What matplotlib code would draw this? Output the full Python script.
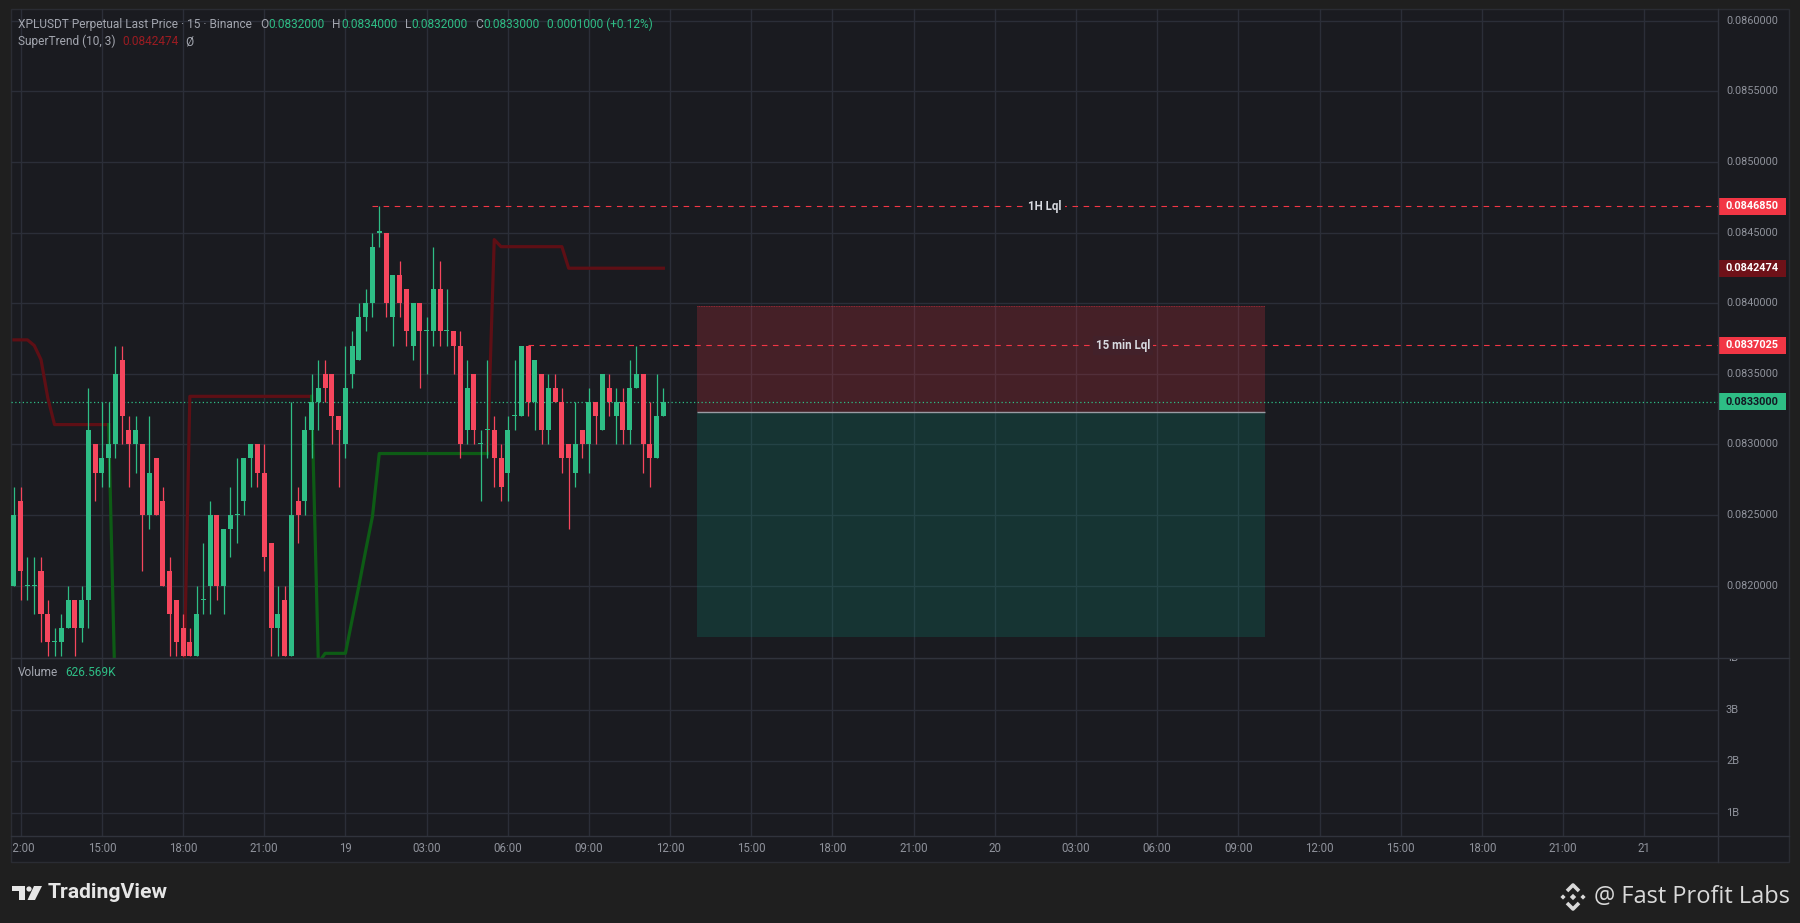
import numpy as np
import matplotlib.pyplot as plt
from matplotlib.patches import Rectangle, Polygon, Circle
from matplotlib.transforms import blended_transform_factory, Bbox, TransformedBbox

plt.rcParams['font.family'] = ['Roboto', 'DejaVu Sans']

W, H = 1800, 923
OUTER = '#1f1f1f'
BG = '#1a1b20'
GRID = '#2b2e38'
SEP = '#30333c'
TXT = '#8f929b'
LEG = '#a3a6af'
UP = '#2ebd85'
DOWN = '#f6465d'
LQL = '#f23645'
ST_RED = '#5e0f15'
ST_GREEN = '#0d5c15'

# XPLUSDT 15m candles, first candle = 18 Sep 11:45, prices in units of 0.0001
opens = [820, 826, 820, 820, 821, 818, 816, 816, 817, 819, 817, 819, 830, 828, 829, 830,
         836, 831, 830, 830, 825, 829, 826, 821, 819, 817, 816, 815, 819, 820, 825, 820,
         824, 825, 826, 829, 830, 828, 823, 817, 819, 815, 826, 826, 831, 833, 835, 835,
         832, 830, 835, 836, 839, 840, 845, 845, 839, 842, 841, 837, 840, 838, 838, 841,
         838, 838, 837, 831, 835, 830, 831, 831, 829, 828, 832, 832, 837, 833, 835, 831,
         834, 833, 830, 828, 831, 830, 833, 831, 834, 832, 833, 831, 834, 835, 830, 829, 832]
highs = [827, 827, 822, 822, 822, 819, 817, 818, 820, 819, 820, 834, 830, 833, 833, 837,
         837, 832, 832, 830, 832, 829, 827, 822, 819, 818, 817, 820, 823, 826, 825, 824,
         827, 829, 829, 830, 830, 830, 823, 820, 820, 833, 827, 832, 835, 836, 836, 835,
         832, 837, 838, 840, 841, 845, 846.85, 845, 842, 843, 841, 840, 840, 839, 844, 843,
         841, 838, 838, 836, 835, 831, 836, 832, 830, 832, 836, 837, 837, 836, 835, 835,
         835, 834, 830, 833, 831, 834, 833, 835, 835, 834, 834, 836, 837, 835, 833, 835, 834]
lows = [820, 819, 819, 818, 816, 815, 815, 815, 817, 815, 816, 817, 826, 827, 827, 829,
        830, 827, 828, 821, 824, 825, 820, 815, 815, 815, 815, 815, 818, 818, 819, 818,
        822, 823, 825, 827, 827, 821, 815, 815, 815, 815, 823, 825, 829, 831, 833, 830,
        827, 829, 834, 836, 838, 839, 844, 839, 837, 839, 837, 836, 834, 835, 837, 837,
        837, 835, 829, 830, 830, 826, 829, 827, 826, 826, 831, 832, 832, 831, 830, 830,
        833, 828, 824, 827, 829, 828, 830, 831, 832, 830, 830, 830, 834, 828, 827, 829, 832]
closes = [825, 821, 820, 820, 818, 816, 816, 817, 819, 817, 819, 831, 828, 829, 830, 835,
          832, 830, 831, 825, 828, 825, 820, 818, 816, 815, 815, 818, 819, 825, 820, 824,
          825, 825, 829, 830, 828, 822, 817, 818, 815, 825, 825, 831, 833, 834, 834, 832,
          831, 834, 837, 839, 840, 844, 845, 840, 842, 840, 838, 840, 838, 838, 841, 838,
          838, 837, 830, 834, 831, 830, 831, 829, 827, 831, 832, 837, 833, 836, 831, 834,
          833, 829, 829, 830, 830, 833, 832, 835, 833, 833, 831, 834, 835, 830, 829, 832, 833]

nan = np.nan
# SuperTrend (10, 3): down trend (red) and up trend (green), same units
st_down = ([837.4, 837.4, 837.4, 837.0, 836.0, 833.3] + [831.4] * 9 + [nan] * 10 + [810.0]
           + [833.4] * 19 + [nan] * 25 + [829.4, 844.5] + [844.0] * 10 + [842.474] * 15)
st_up = ([nan] * 14 + [831.4] + [811.5] * 10 + [nan] * 19 + [833.4, 814.5] + [815.2] * 4
         + [817.6, 820.0, 822.5, 824.9] + [829.35] * 17 + [nan] * 26)

last_price = 0.0833
lql_1h = 0.0846850
lql_15m = 0.0837025
st_last = 0.0842474

# short position tool
box_left, box_right = 101, 185
entry, stop, target = 0.083229, 0.083979, 0.081636

price_ticks = [0.0820, 0.0825, 0.0830, 0.0835, 0.0840, 0.0845, 0.0850, 0.0855, 0.0860]
vol_ticks = [1e9, 2e9, 3e9, 4e9]
vol_labels = ['1B', '2B', '3B', '4B']
time_ticks = [1, 13, 25, 37, 49, 61, 73, 85, 97, 109, 121, 133, 145, 157, 169, 181, 193,
              205, 217, 229, 241]
time_labels = ['12:00', '15:00', '18:00', '21:00', '19', '03:00', '06:00', '09:00', '12:00',
               '15:00', '18:00', '21:00', '20', '03:00', '06:00', '09:00', '12:00', '15:00',
               '18:00', '21:00', '21']

o = np.array(opens) * 1e-4
h = np.array(highs) * 1e-4
l = np.array(lows) * 1e-4
c = np.array(closes) * 1e-4
sd = np.array(st_down) * 1e-4
su = np.array(st_up) * 1e-4
idx = np.arange(len(o))

fig = plt.figure(figsize=(W / 100, H / 100), dpi=100, facecolor=OUTER)

back = fig.add_axes([0, 0, 1, 1])
back.set_xlim(0, W)
back.set_ylim(H, 0)
back.axis('off')
back.set_zorder(-1)
back.add_patch(Rectangle((11, 9.3), 1778, 852.7, fc=BG, ec='#2a2c33', lw=1))

ax = fig.add_axes([11 / W, 1 - 658 / H, 1707 / W, (658 - 9.3) / H])
axv = fig.add_axes([11 / W, 1 - 836 / H, 1707 / W, (836 - 658) / H])
for a in (ax, axv):
    a.set_facecolor('none')
    for s in a.spines.values():
        s.set_visible(False)
    a.set_xlim(-0.435, 251.9)
    a.set_xticks(time_ticks)
    a.tick_params(length=0, labelbottom=False, labelleft=False)
    a.grid(True, color=GRID, lw=1)
    a.set_axisbelow(True)

ax.set_ylim(0.081487, 0.086081)
ax.set_yticks(price_ticks)
axv.set_ylim(0.555e9, 4.0e9)
axv.set_yticks(vol_ticks)

# position box
ax.add_patch(Rectangle((box_left, entry), box_right - box_left, stop - entry,
                       fc='#f23645', alpha=0.2, lw=0, zorder=1))
ax.add_patch(Rectangle((box_left, target), box_right - box_left, entry - target,
                       fc='#089981', alpha=0.2, lw=0, zorder=1))
ax.hlines(entry, box_left, box_right, color='#9a9ca4', lw=1, zorder=2)
ax.hlines(stop, box_left, box_right, color='#f23645', lw=0.6, ls=(0, (1, 1)), alpha=0.6, zorder=2)

# liquidity lines
xr = ax.get_xlim()[1]
ax.hlines(lql_1h, 53, xr, color=LQL, lw=0.8, ls=(0, (5, 5)), zorder=2)
ax.hlines(lql_15m, 76, xr, color=LQL, lw=0.8, ls=(0, (5, 5)), zorder=2)
ax.text(152.4, lql_1h, '1H Lql', color='#d8dae0', fontsize=8.3, fontweight='bold',
        ha='center', va='center', zorder=3,
        bbox=dict(boxstyle='square,pad=0.25', fc=BG, ec='none'))
ax.text(164.0, lql_15m, '15 min Lql', color='#d8dae0', fontsize=8.3, fontweight='bold',
        ha='center', va='center', zorder=3,
        bbox=dict(boxstyle='square,pad=0.25', fc='#42212a', ec='none'))

# last price dotted line
ax.axhline(last_price, color=UP, lw=0.9, ls=(0, (1, 2)), zorder=2)

# supertrend
ax.plot(idx, sd, color=ST_RED, lw=2.3, zorder=3, solid_joinstyle='round')
ax.plot(idx, su, color=ST_GREEN, lw=2.3, zorder=3, solid_joinstyle='round')

# candles
cols = [UP if cc >= oo else DOWN for oo, cc in zip(o, c)]
ax.vlines(idx, l, h, colors=cols, lw=0.9, zorder=4)
body_lo = np.minimum(o, c)
body_h = np.maximum(np.abs(c - o), 0.0000075)
ax.bar(idx, body_h, bottom=body_lo, width=0.74, color=cols, lw=0, zorder=5)

# front overlay in pixel coordinates
ov = fig.add_axes([0, 0, 1, 1])
ov.set_xlim(0, W)
ov.set_ylim(H, 0)
ov.axis('off')
ov.set_zorder(10)

ov.plot([11, 1789], [658, 658], color=SEP, lw=1)
ov.plot([11, 1789], [836, 836], color=SEP, lw=1)
ov.plot([1718, 1718], [9.3, 862], color=SEP, lw=1)

tp = blended_transform_factory(ov.transData, ax.transData)
tv = blended_transform_factory(ov.transData, axv.transData)
tt = blended_transform_factory(ax.transData, ov.transData)

for p in price_ticks:
    ov.text(1726, p, f'{p:.7f}', transform=tp, color=TXT, fontsize=7.8, ha='left', va='center')

vclip = TransformedBbox(Bbox.from_extents(1719, 658.5, 1789, 836), ov.transData)
for v, lab in zip(vol_ticks, vol_labels):
    t = ov.text(1726, v, lab, transform=tv, color=TXT, fontsize=8, ha='left', va='center')
    t.set_clip_box(vclip)
    t.set_clip_on(True)

tclip = TransformedBbox(Bbox.from_extents(12.5, 836, 1718, 862), ov.transData)
for k, lab in zip(time_ticks, time_labels):
    t = ov.text(k, 848.5, lab, transform=tt, color=TXT, fontsize=8.3, ha='center', va='center')
    t.set_clip_box(tclip)
    t.set_clip_on(True)

badges = [(lql_1h, LQL, 'white'), (st_last, '#6e1118', 'white'),
          (lql_15m, LQL, 'white'), (last_price, UP, '#131722')]
half = 8.5 * 0.0005 / 70.6
for p, fc, tc in badges:
    ov.add_patch(Rectangle((1719, p - half), 67, 2 * half, transform=tp, fc=fc, ec='none'))
    ov.text(1726, p, f'{p:.7f}', transform=tp, color=tc, fontsize=7.8, fontweight='bold',
            ha='left', va='center')


def chain(x, y, parts, size=8.6):
    t = None
    for s, col, gap in parts:
        if t is None:
            t = ov.text(x, y, s, color=col, fontsize=size, ha='left', va='center')
        else:
            t = ov.annotate(s, xy=(1, 0), xycoords=t, xytext=(gap * 0.72, 0),
                            textcoords='offset points', color=col, fontsize=size,
                            ha='left', va='bottom')


chain(18, 24.5, [('XPLUSDT Perpetual Last Price · 15 · Binance', LEG, 0),
                 ('O', LEG, 8), ('0.0832000', UP, 0),
                 ('H', LEG, 8), ('0.0834000', UP, 0),
                 ('L', LEG, 8), ('0.0832000', UP, 0),
                 ('C', LEG, 8), ('0.0833000', UP, 0),
                 ('0.0001000 (+0.12%)', UP, 7)])
chain(18, 41.7, [('SuperTrend (10, 3)', LEG, 0), ('0.0842474', '#9b1b22', 7), ('Ø', LEG, 7)])
chain(18, 672.7, [('Volume', LEG, 0), ('626.569K', UP, 7)])

# TradingView logo
logo = '#e6e6e6'
ov.add_patch(Polygon([(12, 886), (25, 886), (25, 900), (19, 900), (19, 891), (12, 891)],
                     closed=True, fc=logo, ec='none'))
ov.add_patch(Circle((29, 889), 2.6, fc=logo, ec='none'))
ov.add_patch(Polygon([(34, 886), (42, 886), (35, 900), (27.5, 900)], closed=True, fc=logo, ec='none'))
ov.text(48, 893, 'TradingView', color=logo, fontsize=15.2, fontweight='bold', ha='left', va='center')

# watermark with Binance style icon
wm = '#d9d9d9'
cx, cy = 1573, 897
for dx, dy, r in [(0, 0, 3.2), (-10, 0, 2.6), (10, 0, 2.6)]:
    ov.add_patch(Polygon([(cx + dx - r, cy + dy), (cx + dx, cy + dy - r),
                          (cx + dx + r, cy + dy), (cx + dx, cy + dy + r)], fc=wm, ec='none'))
ov.plot([cx - 6, cx, cx + 6], [cy - 6, cy - 12, cy - 6], color=wm, lw=2.6, solid_capstyle='butt')
ov.plot([cx - 6, cx, cx + 6], [cy + 6, cy + 12, cy + 6], color=wm, lw=2.6, solid_capstyle='butt')
ov.text(1790, 897, '@ Fast Profit Labs', color=wm, fontsize=17, family=['Open Sans', 'DejaVu Sans'],
        ha='right', va='center')

fig.savefig('out.png', dpi=100, facecolor=OUTER)
